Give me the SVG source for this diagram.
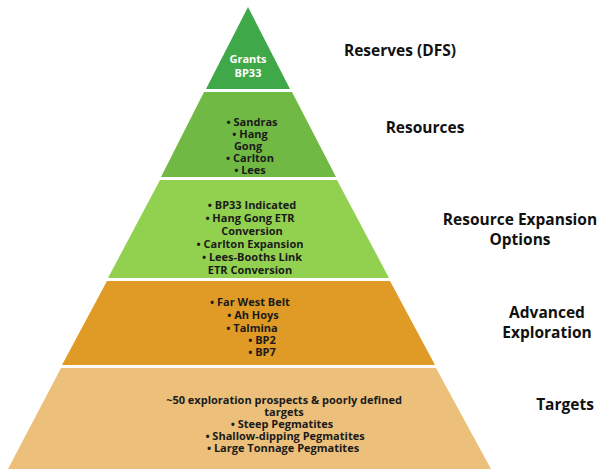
<svg xmlns="http://www.w3.org/2000/svg" width="609" height="476" viewBox="0 0 609 476">
<style>
.t{font-family:"Open Sans","Liberation Sans",sans-serif;font-weight:bold;font-size:11px;text-anchor:middle;fill:#1a1a1a}
.w{fill:#ffffff}
.l{font-family:"Open Sans","Liberation Sans",sans-serif;font-weight:bold;font-size:15.5px;text-anchor:middle;fill:#111}
</style>
<rect width="609" height="476" fill="#fff"/>
<g id="reserves">
<polygon points="248,7 290,89 206,89" fill="#3fa848"/>
<text class="t w" x="248" y="63">Grants</text>
<text class="t w" x="248" y="77">BP33</text>
<text class="l" x="400" y="56">Reserves (DFS)</text>
</g>
<g id="resources">
<polygon points="204,92 292,92 336,177 161,177" fill="#70b944"/>
<text class="t" x="252" y="126">• Sandras</text>
<text class="t" x="250" y="138">• Hang</text>
<text class="t" x="248" y="150">Gong</text>
<text class="t" x="250" y="162">• Carlton</text>
<text class="t" x="250" y="174">• Lees</text>
<text class="l" x="425" y="133">Resources</text>
</g>
<g id="expansion">
<polygon points="160,180 337,180 389,278 108,278" fill="#92d050"/>
<text class="t" x="252" y="209">•  BP33 Indicated</text>
<text class="t" x="250" y="222">•  Hang Gong ETR</text>
<text class="t" x="252" y="235">Conversion</text>
<text class="t" x="250" y="248">•  Carlton Expansion</text>
<text class="t" x="252" y="261">•  Lees-Booths Link</text>
<text class="t" x="250" y="274">ETR Conversion</text>
<text class="l" x="520" y="225">Resource Expansion</text>
<text class="l" x="520" y="245">Options</text>
</g>
<g id="advanced">
<polygon points="107,281 390,281 435,365 62,365" fill="#e09a26"/>
<text class="t" x="250" y="306">•  Far West Belt</text>
<text class="t" x="253" y="319">•  Ah Hoys</text>
<text class="t" x="252" y="332">•  Talmina</text>
<text class="t" x="262" y="344">•  BP2</text>
<text class="t" x="262" y="356">•  BP7</text>
<text class="l" x="547" y="318">Advanced</text>
<text class="l" x="547" y="338">Exploration</text>
</g>
<g id="targets">
<polygon points="61,368 436,368 491,469 8,469" fill="#ecc07a"/>
<text class="t" x="284" y="404">~50 exploration prospects &amp; poorly defined</text>
<text class="t" x="284" y="416">targets</text>
<text class="t" x="282" y="428">•  Steep Pegmatites</text>
<text class="t" x="285" y="440">•  Shallow-dipping Pegmatites</text>
<text class="t" x="283" y="452">•  Large Tonnage Pegmatites</text>
<text class="l" x="565" y="410">Targets</text>
</g>
<g id="connectors"></g>
</svg>
